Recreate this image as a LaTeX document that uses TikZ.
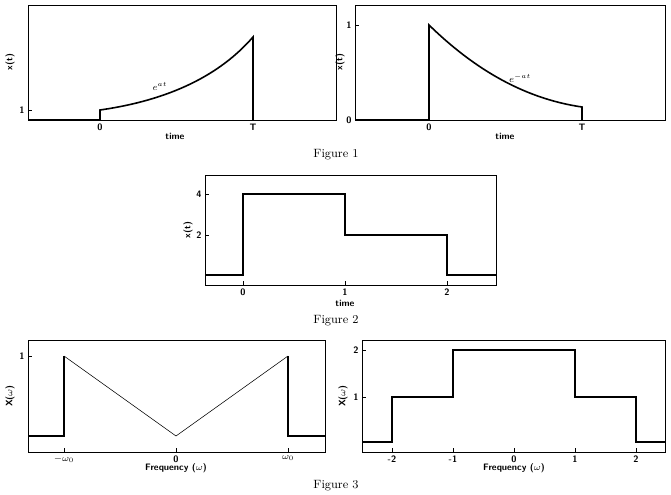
\documentclass[tikz,border=0pt]{standalone}
\usetikzlibrary{positioning}
\tikzset{
  frame/.style={draw,line width=0.6pt},
  sig/.style={draw,line width=1.2pt},
  tick/.style={font=\sffamily\bfseries\scriptsize,inner sep=1pt},
  axlab/.style={font=\sffamily\bfseries\scriptsize,inner sep=1pt},
  figcap/.style={font=\small}
}
\begin{document}
\begin{tikzpicture}[x=0.75pt,y=0.75pt,yscale=-1,xscale=1]
\useasboundingbox (0,0) rectangle (671,495);

% Figure 1, left
\draw [frame] (28,5) rectangle (336,120);
\foreach \x/\l in {100/0,253/T} {\draw (\x,120) -- (\x,116); \node [tick,below] at (\x,122) {\l};}
\draw (28,110) -- (32,110); \node [tick,left] at (26,110) {1};
\draw [sig] (28,120) -- (100,120) -- (100,110) .. controls (170,100) and (220,75) .. (253,37) -- (253,120);
\node (eat) [font=\scriptsize] at (160,86) {$e^{at}$};
\node (t1) [axlab] at (175,136) {time};
\node (y1) [axlab,rotate=90] at (10,62) {x(t)};

% Figure 1, right
\draw [frame] (355,5) rectangle (665,120);
\foreach \x/\l in {429/0,582/T} {\draw (\x,120) -- (\x,116); \node [tick,below] at (\x,122) {\l};}
\foreach \y/\l in {25/1,120/0} {\draw (355,\y) -- (359,\y); \node [tick,left] at (353,\y) {\l};}
\draw [sig] (355,120) -- (429,120) -- (429,25) .. controls (470,65) and (520,98) .. (582,107) -- (582,120);
\node (emat) [font=\scriptsize] at (520,78) {$e^{-at}$};
\node (t2) [axlab] at (505,136) {time};
\node (y2) [axlab,rotate=90] at (340,62) {x(t)};

\node (f1) [figcap] at (336,155) {Figure 1};

% Figure 2
\draw [frame] (205,175) rectangle (496,285);
\foreach \x/\l in {243/0,345/1,447/2} {\draw (\x,285) -- (\x,281); \node [tick,below] at (\x,287) {\l};}
\foreach \y/\l in {194/4,235/2} {\draw (205,\y) -- (209,\y); \node [tick,left] at (203,\y) {\l};}
\draw [sig] (205,275) -- (243,275) -- (243,194) -- (345,194) -- (345,235) -- (447,235) -- (447,275) -- (496,275);
\node (t3) [axlab] at (345,303) {time};
\node (y3) [axlab,rotate=90] at (188,230) {x(t)};

\node (f2) [figcap] at (336,321) {Figure 2};

% Figure 3, left
\draw [frame] (28,340) rectangle (325,452);
\foreach \x/\l in {64/$-\omega_0$,176/0,288/$\omega_0$} {\draw (\x,452) -- (\x,448); \node [tick,below] at (\x,454) {\l};}
\draw (28,356) -- (32,356); \node [tick,left] at (26,356) {1};
\draw [sig] (28,436) -- (64,436) -- (64,356);
\draw [line width=0.4pt] (64,356) -- (176,436) -- (288,356);
\draw [sig] (288,356) -- (288,436) -- (325,436);
\node (t4) [axlab] at (176,468) {Frequency ($\omega$)};
\node (y4) [axlab,rotate=90] at (10,396) {X($\omega$)};

% Figure 3, right
\draw [frame] (362,340) rectangle (665,452);
\foreach \x/\l in {392/-2,453/-1,514/0,575/1,636/2} {\draw (\x,452) -- (\x,448); \node [tick,below] at (\x,454) {\l};}
\foreach \y/\l in {350/2,397/1} {\draw (362,\y) -- (366,\y); \node [tick,left] at (360,\y) {\l};}
\draw [sig] (362,442) -- (392,442) -- (392,397) -- (453,397) -- (453,350) -- (575,350) -- (575,397) -- (636,397) -- (636,442) -- (665,442);
\node (t5) [axlab] at (514,468) {Frequency ($\omega$)};
\node (y5) [axlab,rotate=90] at (343,396) {X($\omega$)};

\node (f3) [figcap] at (336,486) {Figure 3};
\end{tikzpicture}
\end{document}
